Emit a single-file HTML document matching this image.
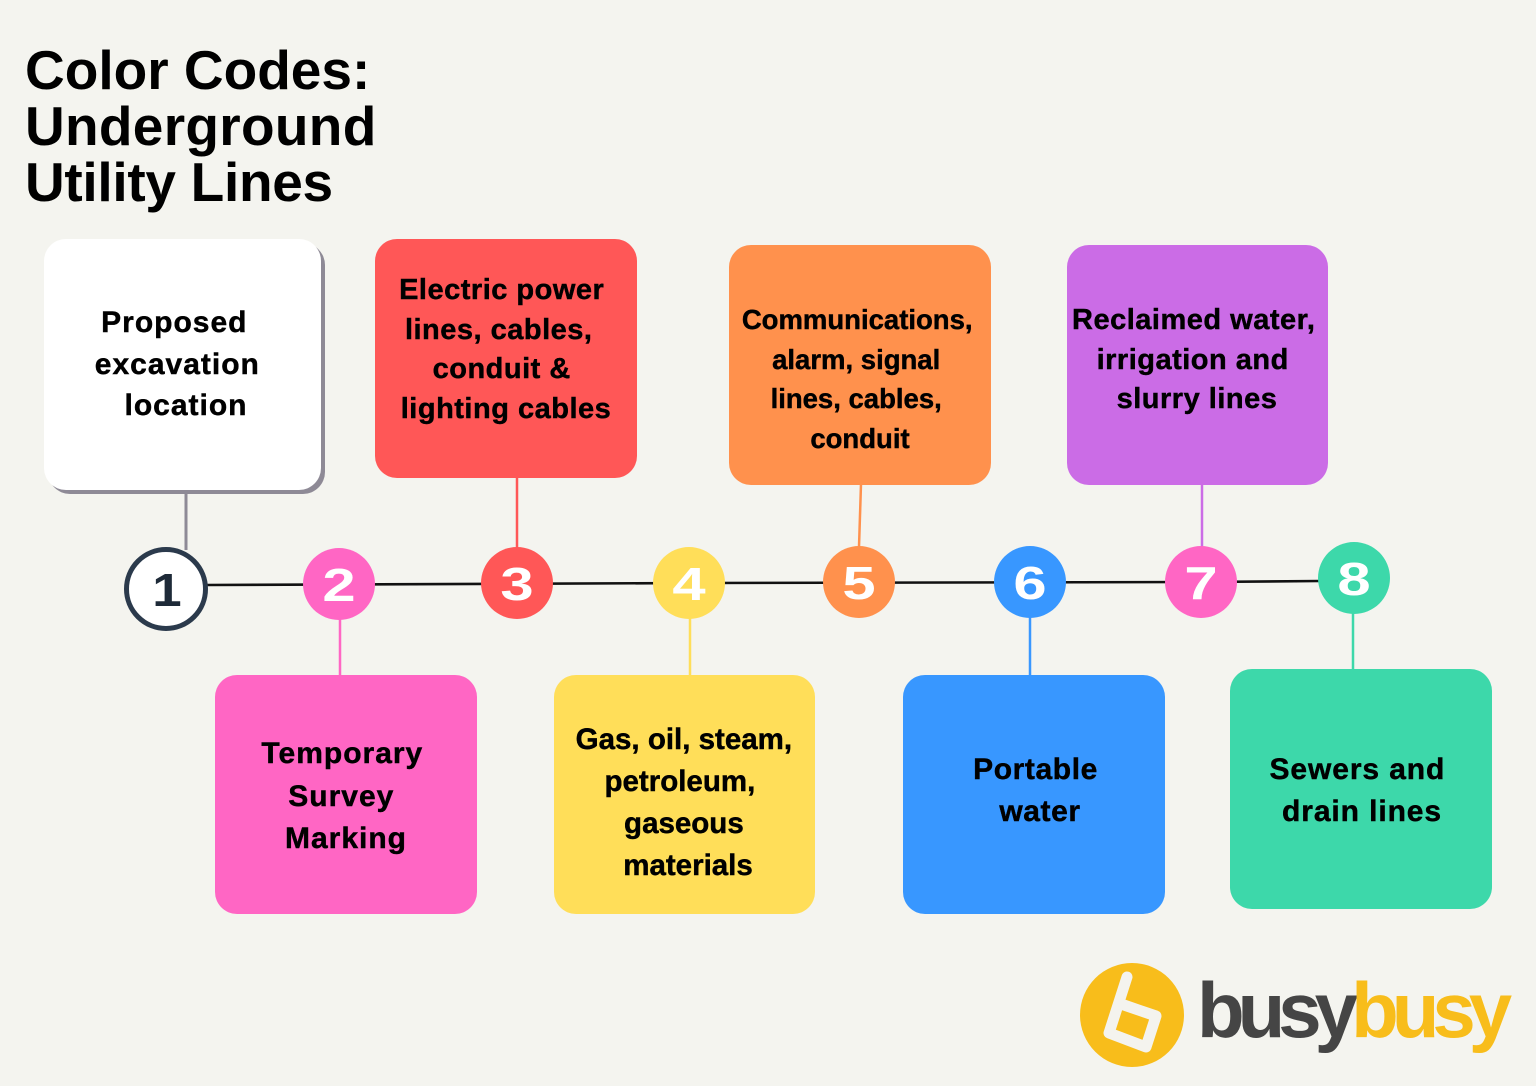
<!DOCTYPE html>
<html>
<head>
<meta charset="utf-8">
<style>
  html,body{margin:0;padding:0;background:#f4f4ef;}
  body{width:1536px;height:1086px;overflow:hidden;}
  svg{display:block;}
  text{font-family:"Liberation Sans",Arial,sans-serif;font-weight:bold;}
  .lbl{stroke:#000;stroke-width:0.45;}
</style>
</head>
<body>
<svg width="1536" height="1086" viewBox="0 0 1536 1086" xmlns="http://www.w3.org/2000/svg">
  <rect x="0" y="0" width="1536" height="1086" fill="#f4f4ef"/>

  <!-- Title -->
  <text x="25" y="89" font-size="55" letter-spacing="0" fill="#000">Color Codes:</text>
  <text x="25" y="145" font-size="55" letter-spacing="0.3" fill="#000">Underground</text>
  <text x="25" y="201" font-size="55" letter-spacing="-0.3" fill="#000">Utility Lines</text>

  <!-- Connectors -->
  <line x1="186" y1="490" x2="186" y2="550" stroke="#8e8a96" stroke-width="3"/>
  <line x1="340" y1="618" x2="340" y2="676" stroke="#ff66c4" stroke-width="2.5"/>
  <line x1="517" y1="477" x2="517" y2="548" stroke="#ff5757" stroke-width="2.5"/>
  <line x1="690" y1="617" x2="690" y2="676" stroke="#ffde59" stroke-width="2.5"/>
  <line x1="861" y1="484" x2="859" y2="547" stroke="#ff914d" stroke-width="2.5"/>
  <line x1="1030" y1="616" x2="1030" y2="676" stroke="#3897ff" stroke-width="2.5"/>
  <line x1="1202" y1="484" x2="1202" y2="547" stroke="#cb6ce6" stroke-width="2.5"/>
  <line x1="1353" y1="613" x2="1353" y2="670" stroke="#3dd8aa" stroke-width="2.5"/>

  <!-- Horizontal timeline -->
  <polyline points="206,585 700,583 1201,582 1320,581" fill="none" stroke="#111" stroke-width="2.6"/>

  <!-- Box 1 (white with shadow) -->
  <rect x="48" y="243" width="277" height="251" rx="22" fill="#8e8a96"/>
  <rect x="44" y="239" width="277" height="251" rx="22" fill="#ffffff"/>
  <text class="lbl" font-size="30" letter-spacing="1" fill="#000" text-anchor="middle">
    <tspan x="179" y="332">Proposed</tspan>
    <tspan x="182" y="374">excavation</tspan>
    <tspan x="186" y="415">location</tspan>
  </text>

  <!-- Box 3 red -->
  <rect x="375" y="239" width="262" height="239" rx="22" fill="#ff5757"/>
  <text class="lbl" font-size="29" letter-spacing="0.5" fill="#000" text-anchor="middle">
    <tspan x="506" y="299">Electric power</tspan>
    <tspan x="503" y="339">lines, cables,</tspan>
    <tspan x="506" y="378">conduit &amp;</tspan>
    <tspan x="506" y="418">lighting cables</tspan>
  </text>

  <!-- Box 5 orange -->
  <rect x="729" y="245" width="262" height="240" rx="22" fill="#ff914d"/>
  <text class="lbl" font-size="27.5" letter-spacing="0" fill="#000" text-anchor="middle">
    <tspan x="861" y="329">Communications,</tspan>
    <tspan x="860" y="369">alarm, signal</tspan>
    <tspan x="860" y="408">lines, cables,</tspan>
    <tspan x="860" y="448">conduit</tspan>
  </text>

  <!-- Box 7 purple -->
  <rect x="1067" y="245" width="261" height="240" rx="22" fill="#cb6ce6"/>
  <text class="lbl" font-size="29" letter-spacing="0.5" fill="#000" text-anchor="middle">
    <tspan x="1198" y="329">Reclaimed water,</tspan>
    <tspan x="1197" y="369">irrigation and</tspan>
    <tspan x="1197" y="408">slurry lines</tspan>
  </text>

  <!-- Box 2 pink -->
  <rect x="215" y="675" width="262" height="239" rx="22" fill="#ff66c4"/>
  <text class="lbl" font-size="30" letter-spacing="1" fill="#000" text-anchor="middle">
    <tspan x="347" y="763">Temporary</tspan>
    <tspan x="346" y="806">Survey</tspan>
    <tspan x="346" y="848">Marking</tspan>
  </text>

  <!-- Box 4 yellow -->
  <rect x="554" y="675" width="261" height="239" rx="22" fill="#ffde59"/>
  <text class="lbl" font-size="29.5" letter-spacing="0" fill="#000" text-anchor="middle">
    <tspan x="688" y="749">Gas, oil, steam,</tspan>
    <tspan x="684" y="791">petroleum,</tspan>
    <tspan x="688" y="833">gaseous</tspan>
    <tspan x="688" y="875">materials</tspan>
  </text>

  <!-- Box 6 blue -->
  <rect x="903" y="675" width="262" height="239" rx="22" fill="#3897ff"/>
  <text class="lbl" font-size="30" letter-spacing="0.6" fill="#000" text-anchor="middle">
    <tspan x="1040" y="779">Portable</tspan>
    <tspan x="1040" y="821">water</tspan>
  </text>

  <!-- Box 8 green -->
  <rect x="1230" y="669" width="262" height="240" rx="22" fill="#3dd8aa"/>
  <text class="lbl" font-size="30" letter-spacing="0.9" fill="#000" text-anchor="middle">
    <tspan x="1362" y="779">Sewers and</tspan>
    <tspan x="1362" y="821">drain lines</tspan>
  </text>

  <!-- Circles -->
  <circle cx="166" cy="589" r="39.5" fill="#ffffff" stroke="#2b3a4c" stroke-width="5"/>
  <circle cx="339" cy="584" r="36" fill="#ff66c4"/>
  <circle cx="517" cy="583" r="36" fill="#ff5757"/>
  <circle cx="689" cy="583" r="36" fill="#ffde59"/>
  <circle cx="859" cy="582" r="36" fill="#ff914d"/>
  <circle cx="1030" cy="582" r="36" fill="#3897ff"/>
  <circle cx="1201" cy="582" r="36" fill="#ff66c4"/>
  <circle cx="1354" cy="578" r="36" fill="#3dd8aa"/>

  <!-- Digits -->
  <g font-size="46" text-anchor="middle">
    <text transform="translate(167,606) scale(1.15,1)" fill="#1e2a38">1</text>
    <text transform="translate(339,601) scale(1.3,1)" fill="#ffffff">2</text>
    <text transform="translate(517,600) scale(1.3,1)" fill="#ffffff">3</text>
    <text transform="translate(689,600) scale(1.3,1)" fill="#ffffff">4</text>
    <text transform="translate(859,599) scale(1.3,1)" fill="#ffffff">5</text>
    <text transform="translate(1030,599) scale(1.3,1)" fill="#ffffff">6</text>
    <text transform="translate(1201,599) scale(1.3,1)" fill="#ffffff">7</text>
    <text transform="translate(1354,595) scale(1.3,1)" fill="#ffffff">8</text>
  </g>

  <!-- Logo -->
  <circle cx="1132" cy="1015" r="52" fill="#f8bd1b"/>
  <path d="M1127,977 L1109,1033 L1146,1047 L1156,1016 L1121,1004" fill="none" stroke="#f4f3ee" stroke-width="11" stroke-linecap="round" stroke-linejoin="round"/>
  <text x="1197" y="1037" font-size="78" letter-spacing="-7"><tspan fill="#454545">busy</tspan><tspan fill="#f8bd1b">busy</tspan></text>
</svg>
</body>
</html>
